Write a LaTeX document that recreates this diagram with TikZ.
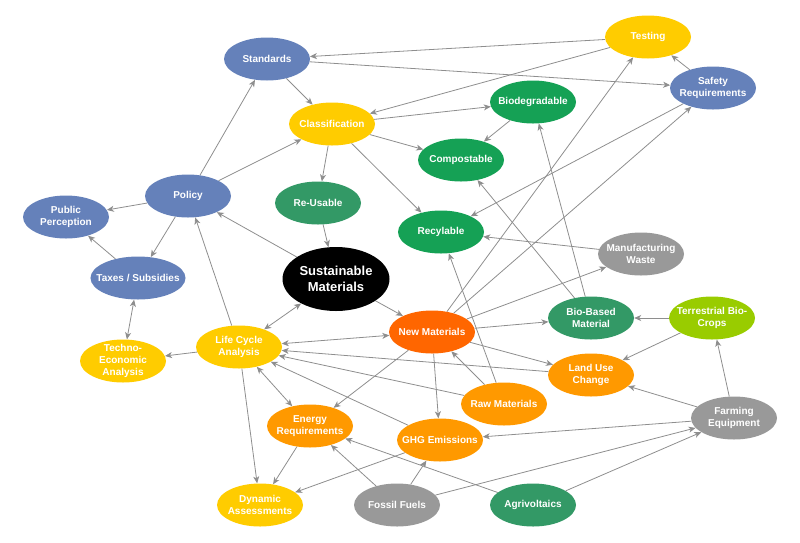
\documentclass[tikz,border=0pt]{standalone}
\usepackage{fontspec}
\setmainfont{Liberation Sans}
\usetikzlibrary{shapes.geometric,arrows.meta,backgrounds}

\definecolor{polblue}{HTML}{6581BA}
\definecolor{goldyel}{HTML}{FFCC00}
\definecolor{biogreen}{HTML}{15A155}
\definecolor{usegreen}{HTML}{339966}
\definecolor{limegreen}{HTML}{99CC00}
\definecolor{impact}{HTML}{FF9900}
\definecolor{newmat}{HTML}{FF6600}
\definecolor{inputgray}{HTML}{999999}
\definecolor{linkgray}{HTML}{8E8E8E}

\tikzset{
  topic/.style={ellipse, text=white, align=center, font=\fontsize{10}{12}\selectfont\bfseries,
    minimum width=86pt, minimum height=43pt, inner xsep=-8pt, inner ysep=-4pt},
  link/.style={-{Stealth[length=7pt,width=6pt,inset=2pt]}, draw=linkgray, line width=0.8pt},
  both/.style={link, {Stealth[length=7pt,width=6pt,inset=2pt]}-{Stealth[length=7pt,width=6pt,inset=2pt]}},
}

\begin{document}
\begin{tikzpicture}[x=1pt,y=-1pt]
\useasboundingbox (0,0) rectangle (800,542);

\node[topic, fill=polblue] (standards) at (267,59) {Standards};
\node[topic, fill=goldyel] (testing) at (648,37) {Testing};
\node[topic, fill=polblue] (safety) at (713,88) {Safety\\Requirements};
\node[topic, fill=goldyel] (classif) at (332,124) {Classification};
\node[topic, fill=biogreen] (biodeg) at (533,102) {Biodegradable};
\node[topic, fill=biogreen] (compost) at (461,160) {Compostable};
\node[topic, fill=polblue] (policy) at (188,196) {Policy};
\node[topic, fill=polblue] (public) at (66,217) {Public\\Perception};
\node[topic, fill=usegreen] (reusable) at (318,203) {Re-Usable};
\node[topic, fill=biogreen] (recyl) at (441,232) {Recylable};
\node[topic, fill=inputgray] (waste) at (641,254) {Manufacturing\\Waste};
\node[topic, fill=black, minimum width=107pt, minimum height=64pt,
  font=\fontsize{13}{15.5}\selectfont\bfseries] (sustain) at (336,279) {Sustainable\\Materials};
\node[topic, fill=polblue] (taxes) at (138,278) {Taxes / Subsidies};
\node[topic, fill=newmat] (newmat) at (432,332) {New Materials};
\node[topic, fill=usegreen] (biobased) at (591,318) {Bio-Based\\Material};
\node[topic, fill=limegreen] (crops) at (712,318) {Terrestrial Bio-\\Crops};
\node[topic, fill=goldyel] (lca) at (239,347) {Life Cycle\\Analysis};
\node[topic, fill=goldyel] (techno) at (123,361) {Techno-\\Economic\\Analysis};
\node[topic, fill=impact] (landuse) at (591,375) {Land Use\\Change};
\node[topic, fill=impact] (raw) at (504,404) {Raw Materials};
\node[topic, fill=inputgray] (farming) at (734,418) {Farming\\Equipment};
\node[topic, fill=impact] (energy) at (310,426) {Energy\\Requirements};
\node[topic, fill=impact] (ghg) at (440,440) {GHG Emissions};
\node[topic, fill=goldyel] (dynamic) at (260,505) {Dynamic\\Assessments};
\node[topic, fill=inputgray] (fossil) at (397,505) {Fossil Fuels};
\node[topic, fill=usegreen] (agri) at (533,505) {Agrivoltaics};

\begin{scope}[on background layer]
% standards and testing
\draw[link] (testing) -- (standards);
\draw[link] (standards) -- (safety);
\draw[link] (testing) -- (classif);
\draw[link] (safety) -- (testing);
\draw[link] (standards) -- (classif);
\draw[link] (policy) -- (standards);
\draw[link] (policy) -- (classif);
% end of life
\draw[link] (classif) -- (biodeg);
\draw[link] (classif) -- (compost);
\draw[link] (biodeg) -- (compost);
\draw[link] (classif) -- (reusable);
\draw[link] (classif) -- (recyl);
\draw[link] (safety) -- (recyl);
\draw[link] (waste) -- (recyl);
\draw[link] (raw) -- (recyl);
% policy side
\draw[link] (policy) -- (public);
\draw[link] (policy) -- (taxes);
\draw[link] (taxes) -- (public);
\draw[both] (taxes) -- (techno);
\draw[link] (lca) -- (policy);
\draw[link] (sustain) -- (policy);
% core
\draw[link] (reusable) -- (sustain);
\draw[link] (sustain) -- (newmat);
\draw[both] (sustain) -- (lca);
\draw[link] (lca) -- (techno);
\draw[both] (lca) -- (newmat);
\draw[link] (lca) -- (dynamic);
\draw[both] (lca) -- (energy);
\draw[link] (landuse) -- (lca);
\draw[link] (raw) -- (lca);
\draw[link] (ghg) -- (lca);
% new materials
\draw[link] (newmat) -- (energy);
\draw[link] (newmat) -- (ghg);
\draw[link] (raw) -- (newmat);
\draw[link] (newmat) -- (testing);
\draw[link] (newmat) -- (safety);
\draw[link] (newmat) -- (waste);
\draw[link] (newmat) -- (biobased);
\draw[link] (newmat) -- (landuse);
% bio-based and farming
\draw[link] (biobased) -- (compost);
\draw[link] (biobased) -- (biodeg);
\draw[link] (crops) -- (biobased);
\draw[link] (crops) -- (landuse);
\draw[link] (farming) -- (crops);
\draw[link] (farming) -- (landuse);
\draw[link] (farming) -- (ghg);
\draw[link] (fossil) -- (farming);
\draw[link] (agri) -- (farming);
% emissions
\draw[link] (agri) -- (energy);
\draw[link] (fossil) -- (energy);
\draw[link] (fossil) -- (ghg);
\draw[link] (ghg) -- (dynamic);
\draw[link] (energy) -- (dynamic);
\end{scope}
\end{tikzpicture}
\end{document}
